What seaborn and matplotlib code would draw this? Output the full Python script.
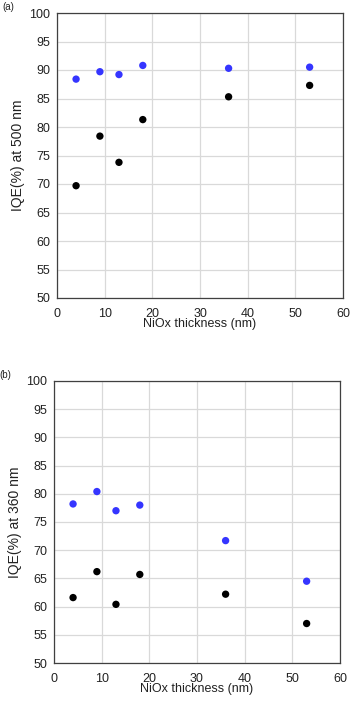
import matplotlib
matplotlib.use("Agg")
import matplotlib.pyplot as plt
import seaborn as sns
import pandas as pd

# NiOx thickness values (nm), shared by both panels
thickness = [4, 9, 13, 18, 36, 53]

# panel (a): IQE at 500 nm
iqe500_blue = [88.4, 89.7, 89.2, 90.8, 90.3, 90.5]
iqe500_black = [69.7, 78.4, 73.8, 81.3, 85.3, 87.3]

# panel (b): IQE at 360 nm
iqe360_blue = [78.2, 80.4, 77.0, 78.0, 71.7, 64.5]
iqe360_black = [61.6, 66.2, 60.4, 65.7, 62.2, 57.0]

sns.set_style("white")
plt.rcParams['font.family'] = ['Liberation Sans', 'DejaVu Sans']

fig = plt.figure(figsize=(3.5, 7.02), dpi=100)
W, H = 350, 702
ax_a = fig.add_axes([57 / W, 1 - 298 / H, 286 / W, 285 / H])
ax_b = fig.add_axes([54 / W, 1 - 663 / H, 286 / W, 282 / H])


def draw_panel(ax, blue, black, ylabel, tag):
    df = pd.DataFrame({'x': thickness * 2,
                       'y': blue + black,
                       'grp': ['blue'] * len(blue) + ['black'] * len(black)})
    sns.scatterplot(data=df, x='x', y='y', hue='grp',
                    palette={'blue': '#3535ff', 'black': 'black'},
                    s=28, edgecolor='none', legend=False, ax=ax, zorder=3)
    ax.set_xlim(0, 60)
    ax.set_ylim(50, 100)
    ax.set_xticks(range(0, 61, 10))
    ax.set_yticks(range(50, 101, 5))
    ax.grid(True, color='#d9d9d9', linewidth=0.9)
    ax.set_axisbelow(True)
    for sp in ax.spines.values():
        sp.set_color('#404040')
        sp.set_linewidth(0.9)
    ax.tick_params(axis='both', labelsize=9, colors='#222222', length=0)
    ax.tick_params(axis='x', pad=7)
    ax.tick_params(axis='y', pad=5)
    ax.set_xlabel('NiOx thickness (nm)', fontsize=9, color='#222222', labelpad=-1)
    ax.set_ylabel(ylabel, fontsize=10, color='#222222', labelpad=3)
    ax.text(-0.19, 1.02, tag, transform=ax.transAxes, fontsize=7,
            ha='left', va='center', color='#222222')


draw_panel(ax_a, iqe500_blue, iqe500_black, 'IQE(%) at 500 nm', '(a)')
draw_panel(ax_b, iqe360_blue, iqe360_black, 'IQE(%) at 360 nm', '(b)')

fig.savefig('out.png', dpi=100)
